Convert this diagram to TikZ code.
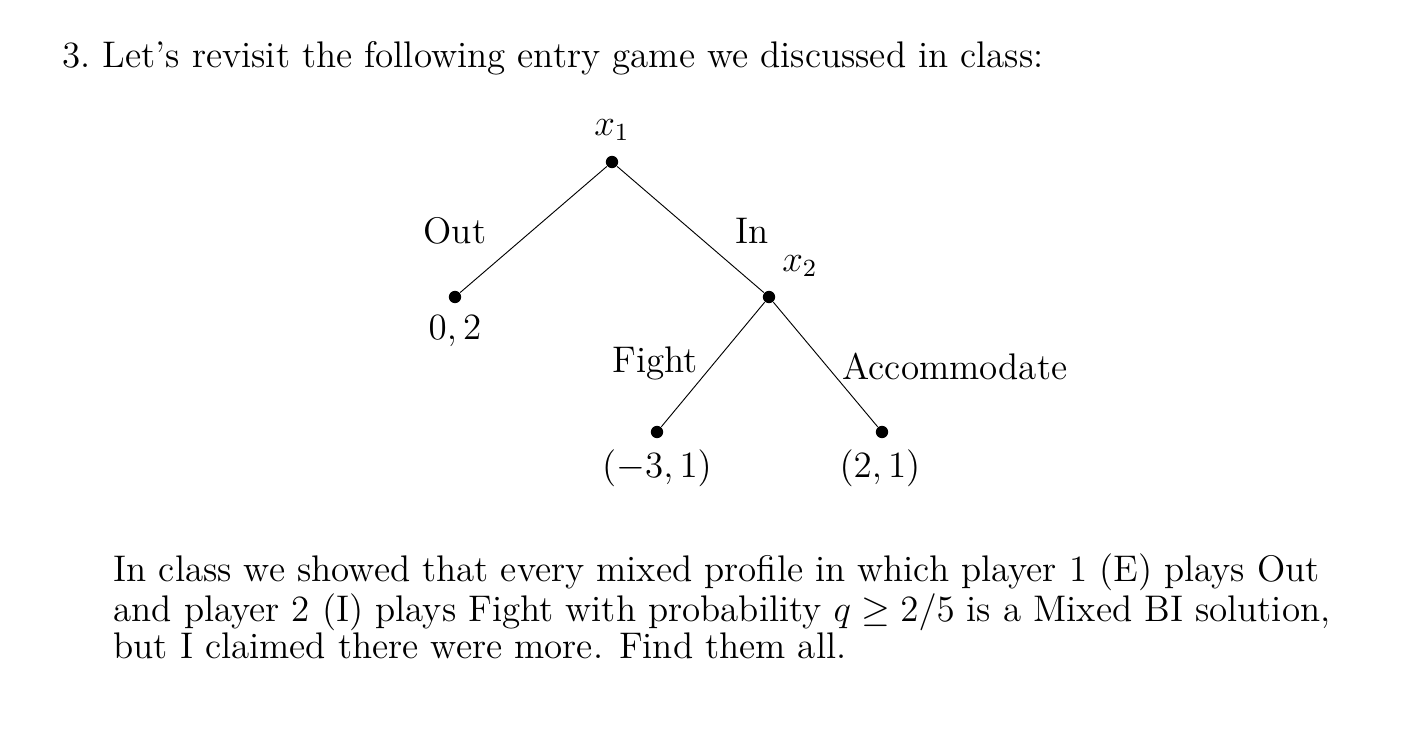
\documentclass[tikz,border=0pt]{standalone}
\begin{document}
\begin{tikzpicture}[x=0.324pt,y=-0.324pt,
  every node/.style={font=\fontsize{12pt}{12pt}\selectfont},
  dot/.style={circle,fill=black,inner sep=0pt,minimum size=4pt},
  lbl/.style={inner sep=0pt}]
\useasboundingbox (0,0) rectangle (1424,748);
\node[lbl,anchor=base west] (title) at (62,68) {3.\ Let's revisit the following entry game we discussed in class:};
\node[dot] (x1) at (612,162) {};
\node[dot] (o) at (455,297) {};
\node[dot] (x2) at (769,297) {};
\node[dot] (f) at (657,432) {};
\node[dot] (a) at (882,432) {};
\draw[line width=0.3pt] (x1) -- (o) (x1) -- (x2) (x2) -- (f) (x2) -- (a);
\node[lbl] (lx1) at (612,130) {$x_1$};
\node[lbl] (lx2) at (800,266) {$x_2$};
\node[lbl] (lout) at (455,231) {Out};
\node[lbl] (lin) at (752,231) {In};
\node[lbl] (p0) at (455,331) {$0,2$};
\node[lbl] (lf) at (655,363) {Fight};
\node[lbl] (la) at (955,366) {Accommodate};
\node[lbl] (pf) at (657,468) {$(-3,1)$};
\node[lbl] (pa) at (880,468) {$(2,1)$};
\node[lbl,anchor=north west,text width=411pt,align=justify,
  font=\fontsize{12pt}{11.9pt}\selectfont] (para) at (113,553)
{In class we showed that every mixed profile in which player 1 (E) plays Out\\ and player 2 (I) plays Fight with probability $q\geq 2/5$ is a Mixed BI solution,\\ but I claimed there were more. Find them all.};
\end{tikzpicture}
\end{document}
